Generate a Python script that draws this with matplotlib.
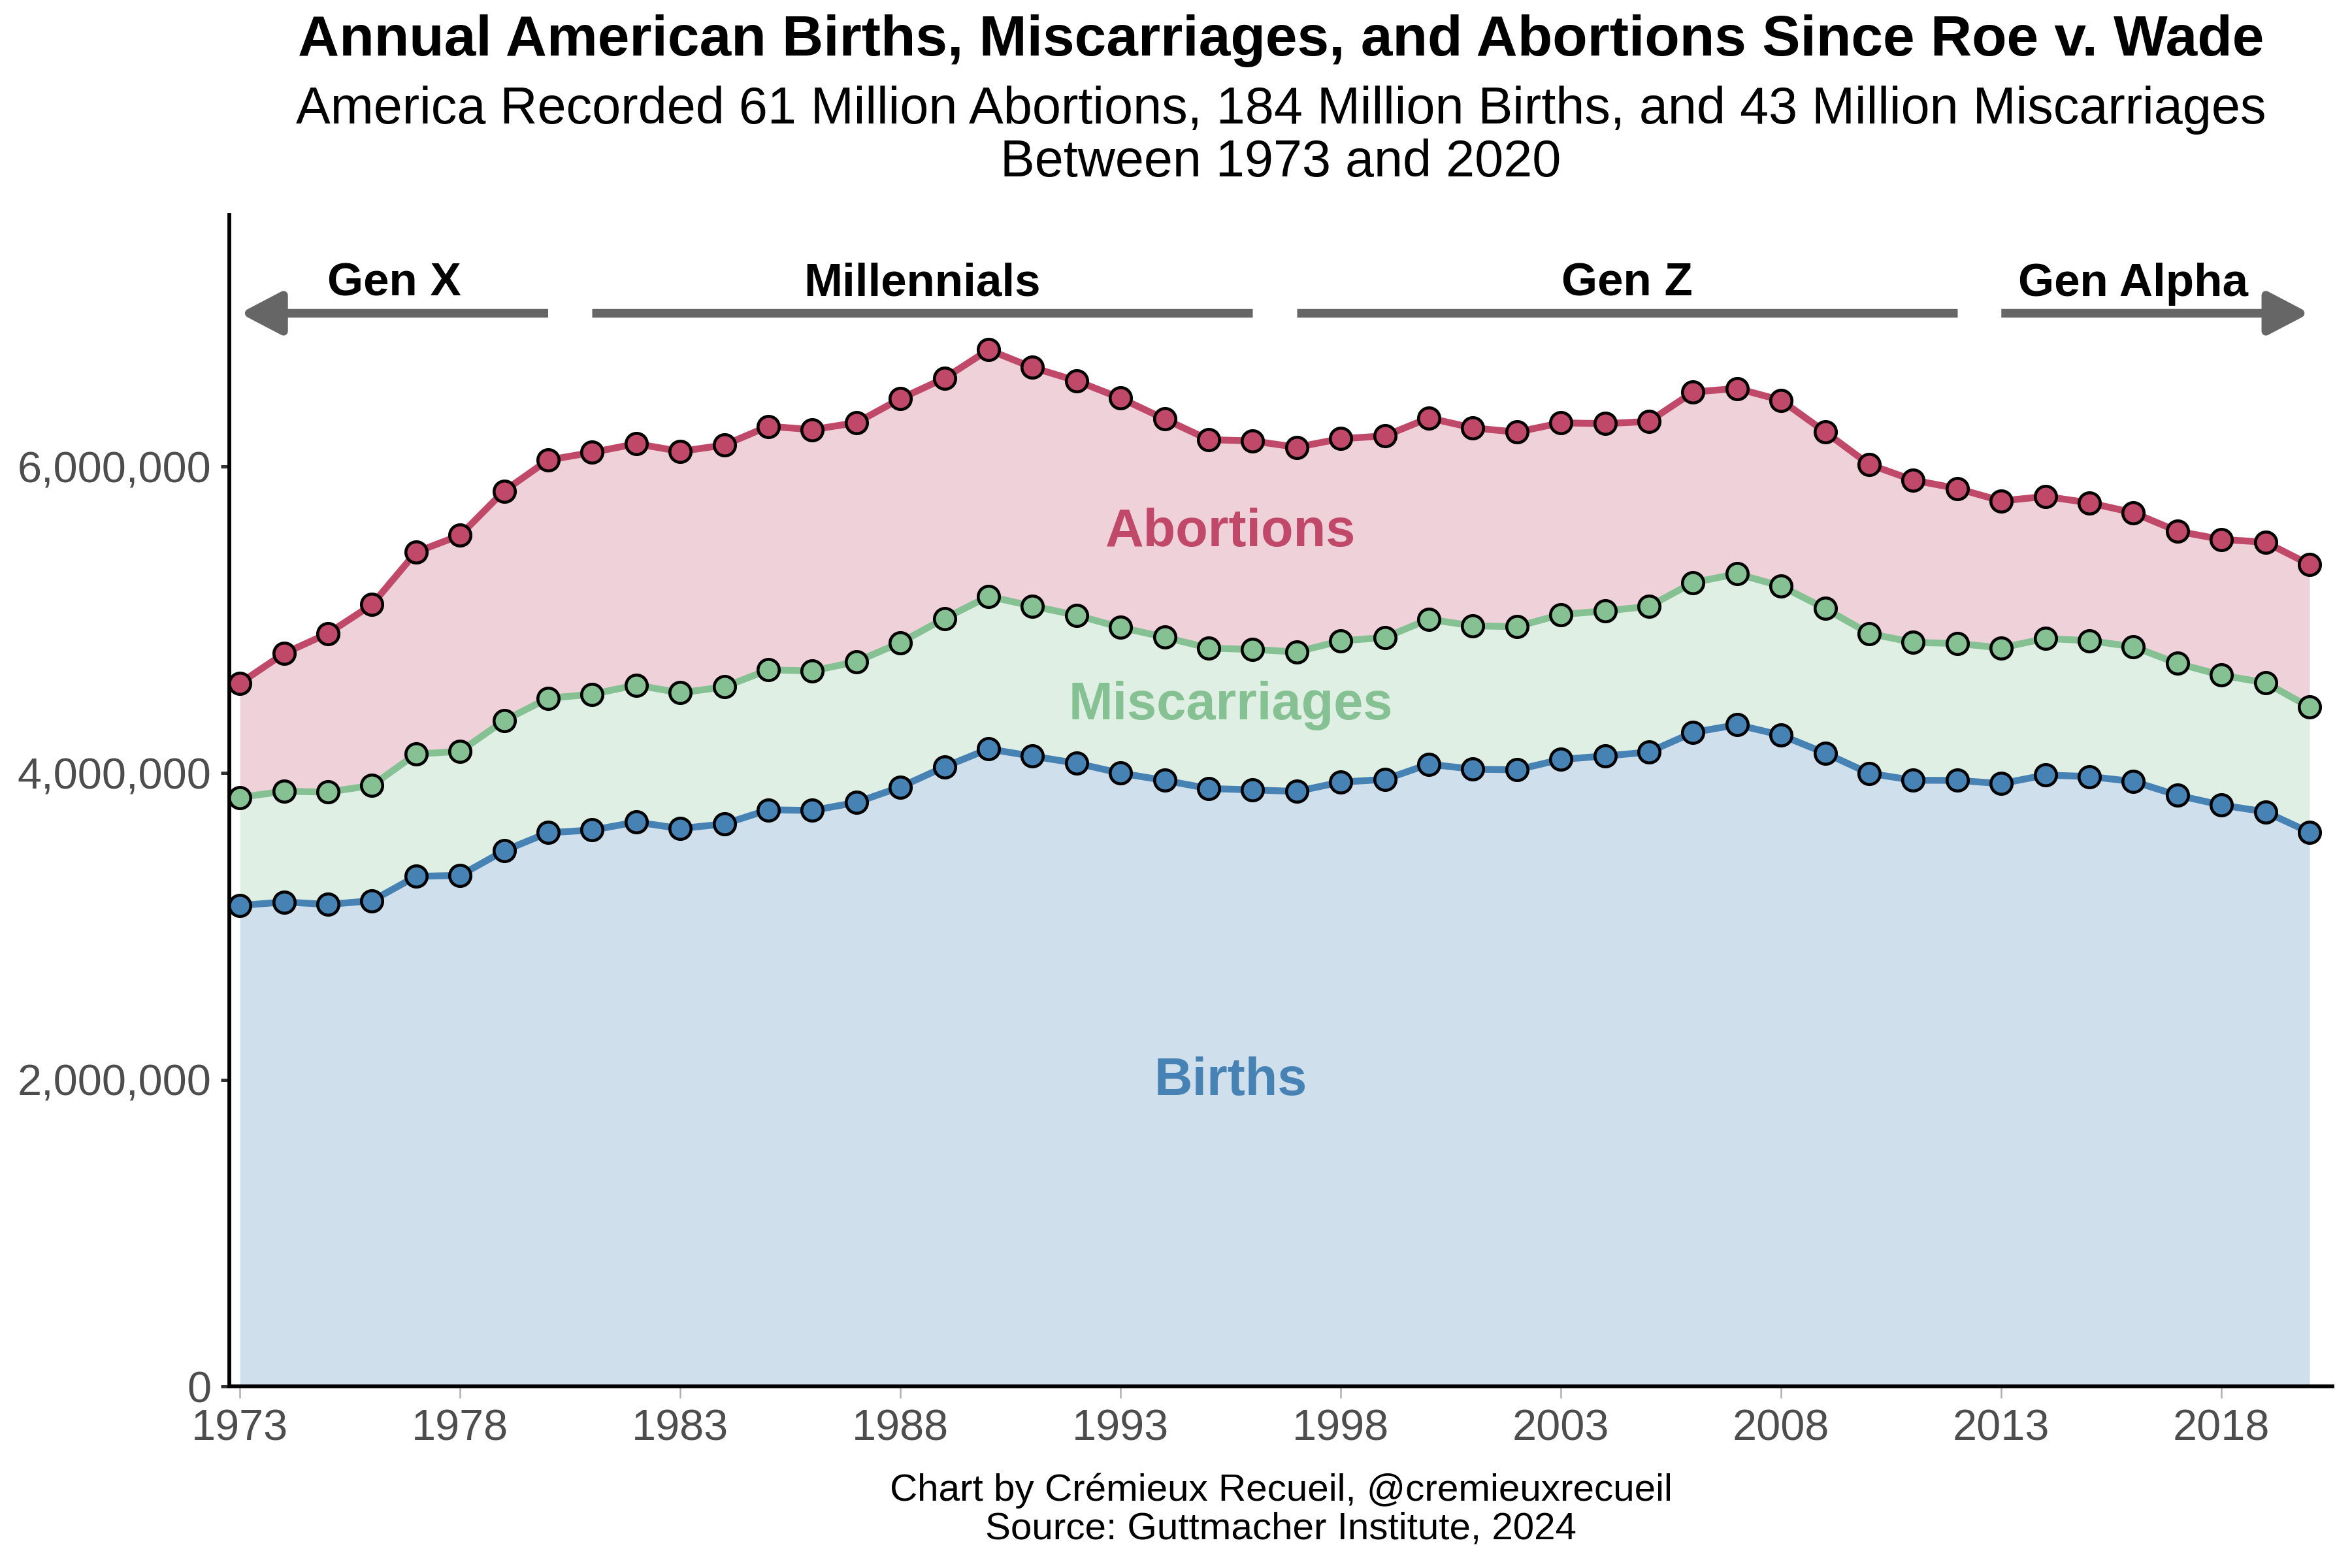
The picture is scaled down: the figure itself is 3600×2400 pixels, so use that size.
import matplotlib
matplotlib.use("Agg")
import matplotlib.pyplot as plt
from matplotlib.ticker import FuncFormatter
import numpy as np

plt.rcParams['font.family'] = ['Liberation Sans', 'DejaVu Sans']

years = list(range(1973, 2021))
births = [3137000, 3160000, 3144000, 3168000, 3327000, 3333000, 3494000, 3612000, 3629000, 3681000,
          3639000, 3669000, 3761000, 3757000, 3809000, 3910000, 4041000, 4158000, 4111000, 4065000,
          4000000, 3953000, 3900000, 3891000, 3881000, 3942000, 3959000, 4059000, 4026000, 4022000,
          4090000, 4112000, 4138000, 4266000, 4316000, 4248000, 4131000, 3999000, 3954000, 3953000,
          3932000, 3988000, 3978000, 3946000, 3856000, 3792000, 3748000, 3614000]
miscarriages = [705000, 722000, 733000, 752000, 798000, 809000, 849000, 877000, 886000, 894000,
                885000, 894000, 913000, 910000, 918000, 942000, 968000, 995000, 979000, 965000,
                951000, 934000, 916000, 916000, 910000, 921000, 926000, 945000, 935000, 934000,
                945000, 946000, 950000, 978000, 984000, 972000, 943000, 912000, 899000, 893000,
                885000, 891000, 886000, 879000, 860000, 847000, 842000, 817000]
abortions = [744600, 898600, 1034200, 1179300, 1316700, 1409600, 1497700, 1553900, 1577300, 1573900,
             1575000, 1577200, 1588600, 1574000, 1559100, 1590800, 1566900, 1608600, 1556500, 1528900,
             1495000, 1423000, 1359400, 1360200, 1335000, 1319000, 1314800, 1313000, 1291000, 1269000,
             1250000, 1222100, 1206200, 1242200, 1209600, 1212400, 1151600, 1102700, 1058500, 1011000,
             958700, 926200, 899500, 874100, 862300, 885800, 916500, 930200]

generations = ["Gen X", "Millennials", "Gen Z", "Gen Alpha"]
gen_start = [1980, 1981, 1997, 2013]
gen_end = [1973, 1996, 2012, 2020]
gen_label_x = [1976.5, 1988.5, 2004.5, 2016.0]

xticks = [1973, 1978, 1983, 1988, 1993, 1998, 2003, 2008, 2013, 2018]
yticks = [0, 2000000, 4000000, 6000000]

c_births = '#4682B4'
c_mis = '#86C193'
c_abo = '#C0496A'

yrs = np.array(years)
b = np.array(births, dtype=float)
m = b + np.array(miscarriages, dtype=float)
a = m + np.array(abortions, dtype=float)

fig = plt.figure(figsize=(12, 8), dpi=300)
ax = fig.add_axes([0.0975, 0.1158, 0.8942, 0.747])

ax.fill_between(yrs, 0, b, color=c_births, alpha=0.25, lw=0)
ax.fill_between(yrs, b, m, color=c_mis, alpha=0.25, lw=0)
ax.fill_between(yrs, m, a, color=c_abo, alpha=0.25, lw=0)

for y, c in [(a, c_abo), (m, c_mis), (b, c_births)]:
    ax.plot(yrs, y, color=c, lw=2.5, zorder=3, solid_capstyle='butt')
    ax.plot(yrs, y, ls='none', marker='o', ms=7.8, mfc=c, mec='black', mew=1.1, zorder=4)

# labels inside areas
ax.text(1995.5, 5.57e6, "Abortions", color=c_abo, fontsize=19.5, fontweight='bold', ha='center', va='center')
ax.text(1995.5, 4.44e6, "Miscarriages", color=c_mis, fontsize=19.5, fontweight='bold', ha='center', va='center')
ax.text(1995.5, 1.99e6, "Births", color=c_births, fontsize=19.5, fontweight='bold', ha='center', va='center')

# generation arrows
arrow_y = 7.0e6
for i, (g, s, e, lx) in enumerate(zip(generations, gen_start, gen_end, gen_label_x)):
    if i == 0 or i == len(generations) - 1:
        ax.annotate("", xy=(e, arrow_y), xytext=(s, arrow_y),
                    arrowprops=dict(arrowstyle='-|>,head_length=0.42,head_width=0.22',
                                    mutation_scale=30, lw=3.2, color='#666666',
                                    shrinkA=0, shrinkB=0, capstyle='butt', joinstyle='round'),
                    zorder=5)
    else:
        ax.plot([s, e], [arrow_y, arrow_y], color='#666666', lw=3.2, solid_capstyle='butt', zorder=5)
    ax.text(lx, 7.19e6, g, fontsize=17, fontweight='bold', ha='center', va='center', color='black')

ax.set_xlim(1972.76, 2020.52)
ax.set_ylim(0, 7.64e6)
ax.set_xticks(xticks)
ax.set_yticks(yticks)
ax.yaxis.set_major_formatter(FuncFormatter(lambda v, p: f"{int(v):,}"))

for side in ['top', 'right']:
    ax.spines[side].set_visible(False)
for side in ['left', 'bottom']:
    ax.spines[side].set_color('black')
    ax.spines[side].set_linewidth(1.4)

ax.tick_params(axis='y', direction='out', length=3.2, width=1.2, color='#333333',
               labelsize=16, labelcolor='#4D4D4D', pad=3.5)
ax.tick_params(axis='x', direction='out', length=4.2, width=0.6, color='#B0B0B0',
               labelsize=16, labelcolor='#4D4D4D', pad=4)

cx = 0.0975 + 0.8942 / 2
fig.text(cx, 0.974, "Annual American Births, Miscarriages, and Abortions Since Roe v. Wade",
         fontsize=21, fontweight='bold', ha='center', va='center')
fig.text(cx, 0.913, "America Recorded 61 Million Abortions, 184 Million Births, and 43 Million Miscarriages\nBetween 1973 and 2020",
         fontsize=19, ha='center', va='center', linespacing=1.1)
fig.text(cx, 0.037, "Chart by Crémieux Recueil, @cremieuxrecueil\nSource: Guttmacher Institute, 2024",
         fontsize=14, ha='center', va='center', linespacing=1.1)

fig.savefig("out.png", dpi=300)
